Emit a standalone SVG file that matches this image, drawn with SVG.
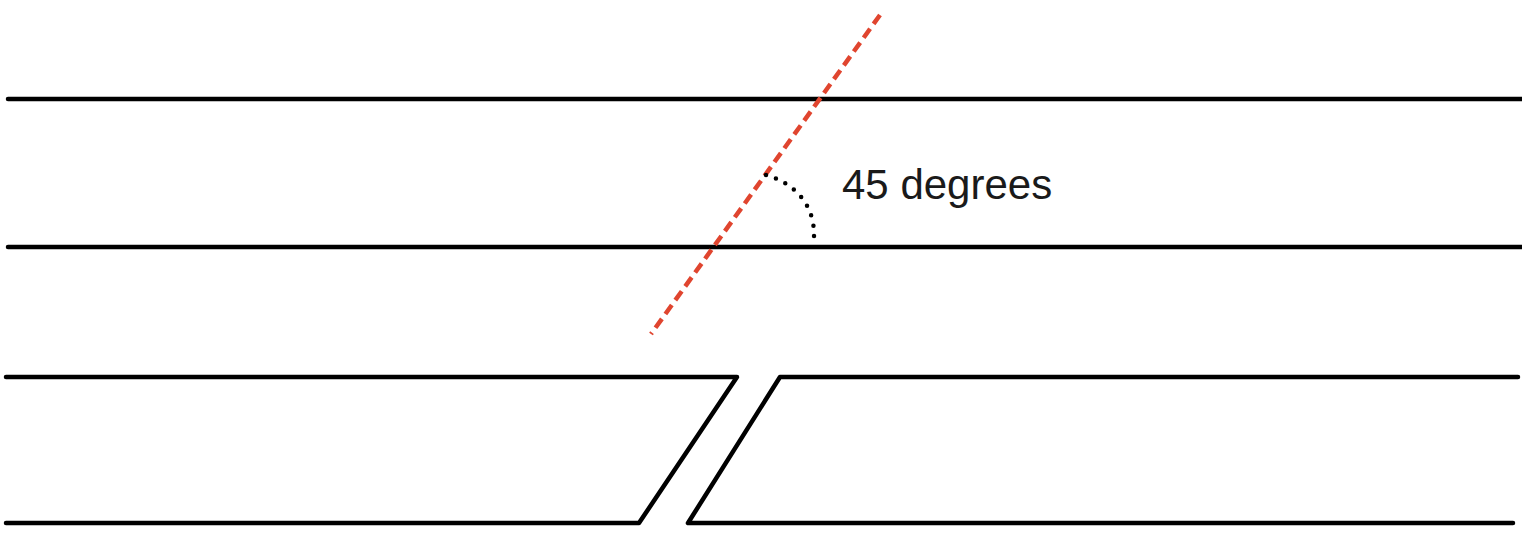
<svg xmlns="http://www.w3.org/2000/svg" width="1522" height="536" viewBox="0 0 1522 536">
<style>
.ln{fill:none;stroke:#000;stroke-width:4.5;stroke-linecap:round;stroke-linejoin:round}
.red{fill:none;stroke:#e0452f;stroke-width:4.5;stroke-dasharray:11 6}
.dot{fill:none;stroke:#000;stroke-width:4.5;stroke-linecap:round;stroke-dasharray:0 0.99}
.lbl{font-family:"Liberation Sans",Arial,sans-serif;font-size:42px;fill:#1a1a1a}
</style>
<rect width="1522" height="536" fill="#fff"/>
<g id="lines">
<path class="ln" d="M8 99 H1524"/>
<path class="ln" d="M8 247 H1524"/>
<path id="left-road" class="ln" d="M6 377 H737 L639 523 H6"/>
<path id="right-road" class="ln" d="M1518 377 H780 L688 523 H1513"/>
</g>
<g id="angle">
<path class="red" d="M880 15 L651 334"/>
<path class="dot" pathLength="8" d="M766 175 C794 183 815 204 814 237"/>
<text class="lbl" x="842" y="199">45 degrees</text>
</g>
</svg>
